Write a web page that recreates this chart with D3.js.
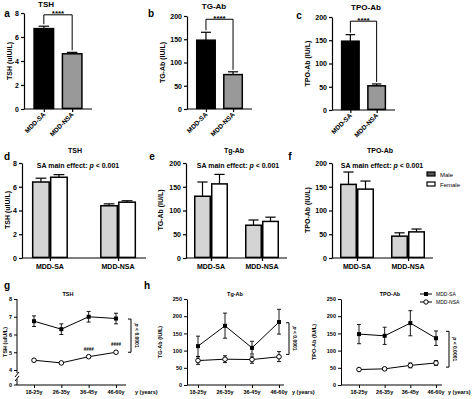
<!DOCTYPE html>
<html><head><meta charset="utf-8">
<script src="https://cdn.jsdelivr.net/npm/d3@7"></script>
<style>body{margin:0;background:#fff}svg{display:block}</style>
</head><body>
<svg id="c" width="474" height="399"></svg>
<script>
// ---------- DATA ----------
const groups = ["MDD-SA", "MDD-NSA"];
const tshMean = [6.7, 4.6], tshErr = [6.9, 4.72];
const tgMean = [148, 74], tgErr = [165, 80];
const tpoMean = [148, 52], tpoErr = [162, 56];
const sexes = ["Male", "Female"];
const tshMale = [6.4, 4.4], tshMaleErr = [6.72, 4.56];
const tshFemale = [6.8, 4.7], tshFemaleErr = [7.02, 4.82];
const tgMale = [130, 69], tgMaleErr = [160, 80];
const tgFemale = [156, 77], tgFemaleErr = [176, 86];
const tpoMale = [155, 46], tpoMaleErr = [181, 53];
const tpoFemale = [145, 55], tpoFemaleErr = [162, 61];
const ages = ["18-25y", "26-35y", "36-45y", "46-60y"];
const tshSA = [6.75, 6.3, 7.0, 6.9], tshSAlo = [6.45, 6.0, 6.7, 6.6], tshSAhi = [7.05, 6.6, 7.3, 7.2];
const tshNSA = [4.55, 4.4, 4.75, 5.0], tshNSAlo = [4.5, 4.35, 4.7, 4.95], tshNSAhi = [4.6, 4.45, 4.8, 5.05];
const tgSA = [113, 172, 108, 183], tgSAlo = [83, 136, 90, 148], tgSAhi = [142, 209, 127, 220];
const tgNSA = [71, 75, 74, 82], tgNSAlo = [60, 65, 63, 68], tgNSAhi = [82, 85, 84, 97];
const tpoSA = [148, 143, 180, 136], tpoSAlo = [120, 118, 143, 115], tpoSAhi = [176, 168, 216, 157];
const tpoNSA = [45, 47, 57, 64], tpoNSAlo = [42, 44, 50, 57], tpoNSAhi = [48, 50, 64, 71];
const tshHash = ["", "", "####", "####"];
const ticksTSH = [0, 2, 4, 6, 8], ticksAb = [0, 50, 100, 150, 200];
const ticksTSHline = [4, 5, 6, 7, 8], ticksAbLine = [0, 50, 100, 150, 200, 250];
const bracketTSH = [6.87, 5.0], bracketTG = [181, 89], bracketTPO = [156, 52];

// ---------- HELPERS ----------
const F = "'Liberation Sans', Arial, Helvetica, sans-serif";
const svg = d3.select("#c");

function txt(x, y, s, size, opt = {}) {
  const t = svg.append("text").attr("x", x).attr("y", y).text(s)
    .attr("font-family", F).attr("font-size", size)
    .attr("font-weight", opt.weight || "bold")
    .attr("text-anchor", opt.anchor || "middle").attr("fill", "#000");
  if (opt.rot !== undefined) t.attr("transform", `rotate(${opt.rot},${x},${y})`);
  return t;
}
function yAxis(x, y, ticks, fs, sw) {
  const g = svg.append("g").attr("transform", `translate(${x},0)`)
    .call(d3.axisLeft(y).tickValues(ticks).tickSize(3).tickPadding(2).tickSizeOuter(0));
  g.select(".domain").attr("stroke-width", sw);
  g.selectAll(".tick line").attr("stroke-width", sw);
  g.selectAll("text").attr("font-family", F).attr("font-size", fs).attr("font-weight", "bold");
  return g;
}
function xAxis(xs, y0, x0, x1, sw) {
  const g = svg.append("g").attr("transform", `translate(0,${y0})`)
    .call(d3.axisBottom(xs).tickSize(3).tickFormat(""));
  g.select(".domain").attr("d", `M${x0},0H${x1}`).attr("stroke-width", sw);
  g.selectAll(".tick line").attr("stroke-width", sw);
  return g;
}

// ---------- Panels a-c ----------
function simpleBar(o) {
  const y = d3.scaleLinear().domain([0, o.max]).range([o.y0, o.y1]);
  const x = d3.scalePoint().domain(groups).range([o.ax, o.xend]).padding(0.7);
  yAxis(o.ax, y, o.ticks, 7, 1.2);
  xAxis(x, o.y0, o.ax, o.xend, 1.2);
  const bw = o.bw;
  groups.forEach((gname, i) => {
    const cx = x(gname);
    svg.append("line").attr("x1", cx).attr("x2", cx).attr("y1", y(o.mean[i])).attr("y2", y(o.err[i]))
      .attr("stroke", "#000").attr("stroke-width", 1.2);
    svg.append("line").attr("x1", cx - bw * 0.25).attr("x2", cx + bw * 0.25).attr("y1", y(o.err[i])).attr("y2", y(o.err[i]))
      .attr("stroke", "#000").attr("stroke-width", 1.2);
  });
  svg.selectAll(null).data(groups).enter().append("rect")
    .attr("x", d => x(d) - bw / 2 + 0.75).attr("width", bw - 1.5)
    .attr("y", (d, i) => y(o.mean[i])).attr("height", (d, i) => y(0) - y(o.mean[i]) - 0.6)
    .attr("fill", (d, i) => i === 0 ? "#000" : "#999").attr("stroke", "#000").attr("stroke-width", 1.5);
  const xa = x(groups[0]), xb = x(groups[1]), yt = y(o.brk);
  svg.append("path").attr("d", `M${xa},${y(o.err[0]) - 2}V${yt}H${xb}V${y(o.err[1]) - 2}`)
    .attr("fill", "none").attr("stroke", "#000").attr("stroke-width", 1);
  txt((xa + xb) / 2, yt + 1.5, "****", 8);
  groups.forEach(gname => txt(x(gname) + 2, o.y0 + 6, gname, 6.5, { anchor: "end", rot: -45 }));
  txt(o.ylx, (o.y0 + o.y1) / 2, o.ylab, 7, { rot: -90 });
  txt(o.tx, o.ty, o.title, 8);
  txt(o.lx, o.ly, o.letter, 10);
}
simpleBar({ letter: "a", lx: 7, ly: 17, title: "TSH", tx: 46, ty: 7, ylab: "TSH (uIU/L)", ylx: 12,
  ax: 24, xend: 92, y0: 109, y1: 13, max: 8, ticks: ticksTSH, mean: tshMean, err: tshErr, bw: 21, brk: 7.85 });
simpleBar({ letter: "b", lx: 151, ly: 17, title: "TG-Ab", tx: 214, ty: 9, ylab: "TG-Ab (IU/L)", ylx: 165,
  ax: 187, xend: 252, y0: 109, y1: 16, max: 200, ticks: ticksAb, mean: tgMean, err: tgErr, bw: 20, brk: 193 });
simpleBar({ letter: "c", lx: 299, ly: 19, title: "TPO-Ab", tx: 366, ty: 10, ylab: "TPO-Ab (IU/L)", ylx: 310,
  ax: 332, xend: 395, y0: 110, y1: 17, max: 200, ticks: ticksAb, mean: tpoMean, err: tpoErr, bw: 19, brk: 191 });

// ---------- Panels d-f ----------
function sexBar(o) {
  const y = d3.scaleLinear().domain([0, o.max]).range([258, 163]);
  const x = d3.scalePoint().domain(groups).range([o.ax, o.xend]).padding(o.pad);
  yAxis(o.ax, y, o.ticks, 7, 1.2);
  xAxis(x, 258, o.ax, o.xend, 1.2);
  const bw = o.bw;
  const series = [
    { name: sexes[0], m: o.male, e: o.maleErr, off: -bw, fill: "#d4d4d4" },
    { name: sexes[1], m: o.female, e: o.femaleErr, off: 0, fill: "#fff" }];
  series.forEach(s => {
    groups.forEach((gname, i) => {
      const cx = x(gname) + s.off + bw / 2;
      svg.append("line").attr("x1", cx).attr("x2", cx).attr("y1", y(s.m[i])).attr("y2", y(s.e[i]))
        .attr("stroke", "#000").attr("stroke-width", 1.2);
      svg.append("line").attr("x1", cx - bw * 0.3).attr("x2", cx + bw * 0.3).attr("y1", y(s.e[i])).attr("y2", y(s.e[i]))
        .attr("stroke", "#000").attr("stroke-width", 1.2);
    });
    svg.selectAll(null).data(groups).enter().append("rect")
      .attr("x", d => x(d) + s.off + 0.75).attr("width", bw - 1.5)
      .attr("y", (d, i) => y(s.m[i])).attr("height", (d, i) => y(0) - y(s.m[i]) - 0.6)
      .attr("fill", s.fill).attr("stroke", "#000").attr("stroke-width", 1.5);
  });
  groups.forEach(gname => txt(x(gname), 269, gname, 7));
  txt(o.ylx, 210, o.ylab, 7, { rot: -90 });
  txt(o.tx, 153, o.title, 7);
  const t = txt(o.mx, 168, "SA main effect: ", 7);
  t.append("tspan").attr("font-style", "italic").text("p");
  t.append("tspan").text(" < 0.001");
  txt(o.lx, 160, o.letter, 10);
}
sexBar({ letter: "d", lx: 7, title: "TSH", tx: 75, mx: 78, ylab: "TSH (uIU/L)", ylx: 10,
  ax: 22, xend: 146, pad: 0.41, max: 8, ticks: ticksTSH, bw: 18,
  male: tshMale, maleErr: tshMaleErr, female: tshFemale, femaleErr: tshFemaleErr });
sexBar({ letter: "e", lx: 152, title: "Tg-Ab", tx: 234, mx: 238, ylab: "TG-Ab (IU/L)", ylx: 163,
  ax: 186, xend: 287, pad: 0.49, max: 200, ticks: ticksAb, bw: 17,
  male: tgMale, maleErr: tgMaleErr, female: tgFemale, femaleErr: tgFemaleErr });
sexBar({ letter: "f", lx: 290, title: "TPO-Ab", tx: 380, mx: 382, ylab: "TPO-Ab (IU/L)", ylx: 310,
  ax: 332, xend: 433, pad: 0.49, max: 200, ticks: ticksAb, bw: 17,
  male: tpoMale, maleErr: tpoMaleErr, female: tpoFemale, femaleErr: tpoFemaleErr });
sexes.forEach((s, i) => {
  svg.append("rect").attr("x", 427).attr("y", 172 + i * 10).attr("width", 8).attr("height", 4)
    .attr("fill", i === 0 ? "#555" : "#fff").attr("stroke", "#000").attr("stroke-width", 1.2);
  txt(440, 176.5 + i * 10, s, 6, { anchor: "start", weight: "normal" });
});

// ---------- Panels g-h ----------
function linePanel(o) {
  const y = o.y;
  const x = d3.scalePoint().domain(ages).range([o.p0, o.p1]);
  const g = yAxis(o.ax, y, o.ticks, 5.5, 1);
  if (o.broken) {
    g.select(".domain").attr("d", `M0,${y(8)}V${y(4) + 3}`);
    svg.append("line").attr("x1", o.ax).attr("x2", o.ax).attr("y1", y(0) - 6).attr("y2", y(0)).attr("stroke", "#000");
    svg.append("line").attr("x1", o.ax - 2).attr("x2", o.ax + 2).attr("y1", y(4) + 7).attr("y2", y(4) + 2).attr("stroke", "#000");
    svg.append("line").attr("x1", o.ax - 2).attr("x2", o.ax + 2).attr("y1", y(0) - 4).attr("y2", y(0) - 9).attr("stroke", "#000");
    svg.append("line").attr("x1", o.ax - 3).attr("x2", o.ax).attr("y1", y(0)).attr("y2", y(0)).attr("stroke", "#000");
    txt(o.ax - 5, y(0) + 2, "0", 5.5, { anchor: "end" });
  }
  xAxis(x, y(0), o.ax, o.xend, 1);
  ages.forEach(a => txt(x(a), y(0) + 9, a, 5.5));
  txt(o.yx, y(0) + 9, "y (years)", 5.5, { anchor: "start" });
  const line = d3.line().x((d, i) => x(ages[i])).y(d => y(d));
  [[o.sa, o.saLo, o.saHi, true], [o.nsa, o.nsaLo, o.nsaHi, false]].forEach(([m, lo, hi, filled]) => {
    ages.forEach((a, i) => {
      svg.append("path").attr("d", `M${x(a)},${y(lo[i])}V${y(hi[i])}M${x(a) - 2},${y(lo[i])}H${x(a) + 2}M${x(a) - 2},${y(hi[i])}H${x(a) + 2}`)
        .attr("stroke", "#000").attr("stroke-width", 0.9).attr("fill", "none");
    });
    svg.append("path").datum(m).attr("d", line).attr("fill", "none").attr("stroke", "#000").attr("stroke-width", 1);
    if (filled) {
      svg.selectAll(null).data(m).enter().append("rect")
        .attr("x", (d, i) => x(ages[i]) - 2).attr("y", d => y(d) - 2).attr("width", 4).attr("height", 4).attr("fill", "#000");
    } else {
      svg.selectAll(null).data(m).enter().append("circle")
        .attr("cx", (d, i) => x(ages[i])).attr("cy", d => y(d)).attr("r", 2.3)
        .attr("fill", "#fff").attr("stroke", "#000").attr("stroke-width", 1);
    }
  });
  if (o.hash) ages.forEach((a, i) => { if (o.hash[i]) txt(x(a), y(o.nsa[i]) - 6, o.hash[i], 4.5); });
  const bx = o.bx, b0 = y(o.bracket[0]), b1 = y(o.bracket[1]);
  svg.append("path").attr("d", `M${bx - 3},${b0}H${bx}V${b1}H${bx - 3}`).attr("fill", "none").attr("stroke", "#000").attr("stroke-width", 1);
  const t = txt(bx + 4, (b0 + b1) / 2, "", 5, { rot: 90 });
  t.append("tspan").attr("font-style", "italic").text("p");
  t.append("tspan").text(" < 0.0001");
  txt(o.ylx, 342, o.ylab, 5.5, { rot: -90 });
  txt(o.tx, 296, o.title, 5.5);
  if (o.letter) txt(o.lx, 289, o.letter, 10);
}
const yTSH = d3.scaleLinear().domain([0, 4, 8]).range([385, 370, 299]);
const yAb = d3.scaleLinear().domain([0, 250]).range([385, 299]);
linePanel({ letter: "g", lx: 7, title: "TSH", tx: 68, ylab: "TSH (uIU/L)", ylx: 7, y: yTSH, ticks: ticksTSHline, broken: true,
  ax: 17, p0: 34, p1: 116, xend: 126, yx: 135, sa: tshSA, saLo: tshSAlo, saHi: tshSAhi, nsa: tshNSA, nsaLo: tshNSAlo, nsaHi: tshNSAhi,
  hash: tshHash, bx: 131, bracket: bracketTSH });
linePanel({ letter: "h", lx: 147, title: "Tg-Ab", tx: 235, ylab: "TG-Ab (IU/L)", ylx: 162, y: yAb, ticks: ticksAbLine,
  ax: 187, p0: 198, p1: 279, xend: 284, yx: 292, sa: tgSA, saLo: tgSAlo, saHi: tgSAhi, nsa: tgNSA, nsaLo: tgNSAlo, nsaHi: tgNSAhi,
  bx: 289, bracket: bracketTG });
linePanel({ title: "TPO-Ab", tx: 390, ylab: "TPO-Ab (IU/L)", ylx: 316, y: yAb, ticks: ticksAbLine,
  ax: 341, p0: 359, p1: 436, xend: 442, yx: 448, sa: tpoSA, saLo: tpoSAlo, saHi: tpoSAhi, nsa: tpoNSA, nsaLo: tpoNSAlo, nsaHi: tpoNSAhi,
  bx: 449, bracket: bracketTPO });
["MDD-SA", "MDD-NSA"].forEach((s, i) => {
  const yy = 294 + i * 8;
  svg.append("line").attr("x1", 420).attr("x2", 432).attr("y1", yy).attr("y2", yy).attr("stroke", "#000");
  if (i === 0) svg.append("rect").attr("x", 424).attr("y", yy - 2).attr("width", 4).attr("height", 4).attr("fill", "#000");
  else svg.append("circle").attr("cx", 426).attr("cy", yy).attr("r", 2.2).attr("fill", "#fff").attr("stroke", "#000");
  txt(436, yy + 2, s, 5, { anchor: "start", weight: "normal" });
});
</script>
</body></html>
